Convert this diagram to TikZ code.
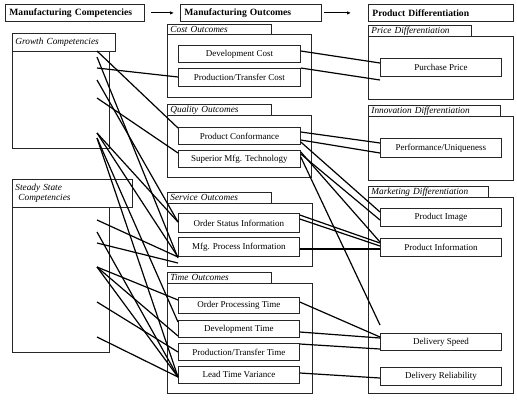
\documentclass[tikz,border=0pt]{standalone}
\usepackage{fontspec}
\setmainfont{Liberation Serif}
\usetikzlibrary{arrows.meta,calc}
\tikzset{
  box/.style={draw=black!85, line width=0.8pt, inner sep=0pt, anchor=north west, font=\fontsize{9}{10}\selectfont},
  lbl/.style={align=left, font=\fontsize{9.3}{9.8}\selectfont\itshape},
  hdr/.style={align=left, font=\fontsize{9.6}{10}\selectfont\bfseries},
  conn/.style={line width=1.2pt, black},
  arr/.style={line width=1.1pt, -{Latex[length=4pt,width=3.5pt]}}
}
\newcommand\bx[7][]{\node[box,minimum width={(#4-#2)*1pt},minimum height={(#5-#3)*1pt},#1] (#6) at (#2,#3) {#7};}
\newcommand\lb[7][]{\node[box,lbl,minimum height={(#5-#3)*1pt},text width={(#4-#2)*1pt-6pt},inner xsep=3pt,#1] (#6) at (#2,#3) {#7};}
\begin{document}
\begin{tikzpicture}[x=1pt,y=-1pt]
\useasboundingbox (0,0) rectangle (517,400);
% headers
\node[box,hdr,minimum height=17pt,text width=131pt,inner xsep=4pt] (mc) at (5,4) {Manufacturing Competencies};
\node[box,hdr,minimum height=17pt,text width=133pt,inner xsep=4pt] (mo) at (180,4) {Manufacturing Outcomes};
\node[box,hdr,minimum height=17pt,text width=137pt,inner xsep=4pt] (pd) at (368,4) {Product Differentiation};
\draw[arr] ([xshift=6pt]mc.east) -- ([xshift=-6pt]mo.west);
\draw[arr] ([xshift=2pt]mo.east) -- ([xshift=-17pt]pd.west);
% left competency boxes
\lb{12}{33}{115}{51}{gcl}{Growth Competencies}
\bx{12}{51}{109}{148}{gc}{}
\lb{12}{179}{132}{207}{scl}{Steady State\\\hspace*{3pt}Competencies}
\bx{12}{207}{109}{352}{sc}{}
% outcome groups
\lb{167}{24}{271}{34}{col}{Cost Outcomes}
\bx{167}{34}{311}{97}{co}{}
\bx{178}{45}{300}{62}{dc}{Development Cost}
\bx{178}{68}{300}{86}{ptc}{Production/Transfer Cost}
\lb{167}{104}{271}{115}{qol}{Quality Outcomes}
\bx{167}{115}{311}{177}{qo}{}
\bx{178}{127}{300}{144}{pc}{Product Conformance}
\bx{178}{150}{300}{167}{smt}{Superior Mfg. Technology}
\lb{167}{192}{271}{203}{sol}{Service Outcomes}
\bx{167}{203}{312}{266}{so}{}
\bx{178}{213}{299}{232}{osi}{Order Status Information}
\bx{178}{237}{299}{256}{mpi}{Mfg. Process Information}
\lb{167}{272}{271}{283}{tol}{Time Outcomes}
\bx{167}{283}{312}{393}{to}{}
\bx{178}{297}{299}{313}{opt}{Order Processing Time}
\bx{178}{320}{299}{337}{dt}{Development Time}
\bx{178}{343}{299}{360}{ptt}{Production/Transfer Time}
\bx{178}{366}{299}{383}{ltv}{Lead Time Variance}
% differentiation groups
\lb{368}{25}{471}{36}{prl}{Price Differentiation}
\bx{368}{36}{513}{99}{pr}{}
\bx{380}{58}{501}{76}{pp}{Purchase Price}
\lb{368}{105}{500}{116}{inl}{Innovation Differentiation}
\bx{368}{116}{513}{180}{in}{}
\bx{380}{138}{501}{157}{pu}{Performance/Uniqueness}
\lb{368}{186}{488}{197}{mkl}{Marketing Differentiation}
\bx{368}{197}{513}{393}{mk}{}
\bx{380}{208}{501}{226}{pim}{Product Image}
\bx{380}{238}{501}{256}{pinf}{Product Information}
\bx{380}{333}{501}{350}{ds}{Delivery Speed}
\bx{380}{367}{501}{385}{dr}{Delivery Reliability}
% competency points
\coordinate (g1) at (97,51);
\coordinate (g2) at (97,57);
\coordinate (g3) at (97,68);
\coordinate (g4) at (97,80);
\coordinate (g5) at (97,98);
\coordinate (g6) at (97,133);
\coordinate (g7) at (97,138);
\coordinate (s1) at (97,220);
\coordinate (s2) at (97,232);
\coordinate (s3) at (97,243);
\coordinate (s4) at (97,267);
\coordinate (s5) at (97,302);
\coordinate (s6) at (97,337);
% competencies -> outcomes
\draw[conn] (g1) -- (pc.west |- 0,128);
\draw[conn] (g2) -- (mpi.west |- 0,258);
\draw[conn] (g3) -- (ptc.west |- 0,77);
\draw[conn] (g4) -- (osi.west |- 0,222);
\draw[conn] (g5) -- (smt.west |- 0,153);
\draw[conn] (g6) -- (osi.west |- 0,222);
\draw[conn] (g6) -- (mpi.west |- 0,257);
\draw[conn] (g7) -- (dt.west |- 0,322);
\draw[conn] (g7) -- (ltv.west |- 0,377);
\draw[conn] (s1) -- (mpi.west |- 0,257);
\draw[conn] (s2) -- (ltv.west |- 0,377);
\draw[conn] (s3) -- (mpi.west |- 0,263);
\draw[conn] (s4) -- (opt.west |- 0,300);
\draw[conn] (s4) -- (dt.west |- 0,336);
\draw[conn] (s4) -- (ltv.west |- 0,377);
\draw[conn] (s5) -- (ptt.west |- 0,352);
\draw[conn] (s6) -- (ltv.west |- 0,377);
% outcomes -> differentiation
\draw[conn] (dc.east |- 0,51) -- (pp.west |- 0,63);
\draw[conn] (ptc.east |- 0,68) -- (pp.west |- 0,80);
\draw[conn] (pc.east |- 0,132) -- (pu.west |- 0,143);
\draw[conn] (pc.east |- 0,140) -- (pu.west |- 0,153);
\draw[conn] (pc.east |- 0,142) -- (pim.west |- 0,212);
\draw[conn] (smt.east |- 0,152) -- (pinf.west |- 0,242);
\draw[conn] (smt.east |- 0,154) -- (pim.west |- 0,220);
\draw[conn] (smt.east |- 0,157) -- (ds.west |- 0,325);
\draw[conn] (osi.east |- 0,215) -- (pinf.west |- 0,243);
\draw[conn] (osi.east |- 0,219) -- (pinf.west |- 0,246);
\draw[conn] (mpi.east |- 0,249) -- (pinf.west |- 0,249);
\draw[conn] (opt.east |- 0,302) -- (ds.west |- 0,337);
\draw[conn] (dt.east |- 0,332) -- (ds.west |- 0,338);
\draw[conn] (ptt.east |- 0,344) -- (ds.west |- 0,349);
\draw[conn] (ltv.east |- 0,373) -- (dr.west |- 0,378);
\end{tikzpicture}
\end{document}
